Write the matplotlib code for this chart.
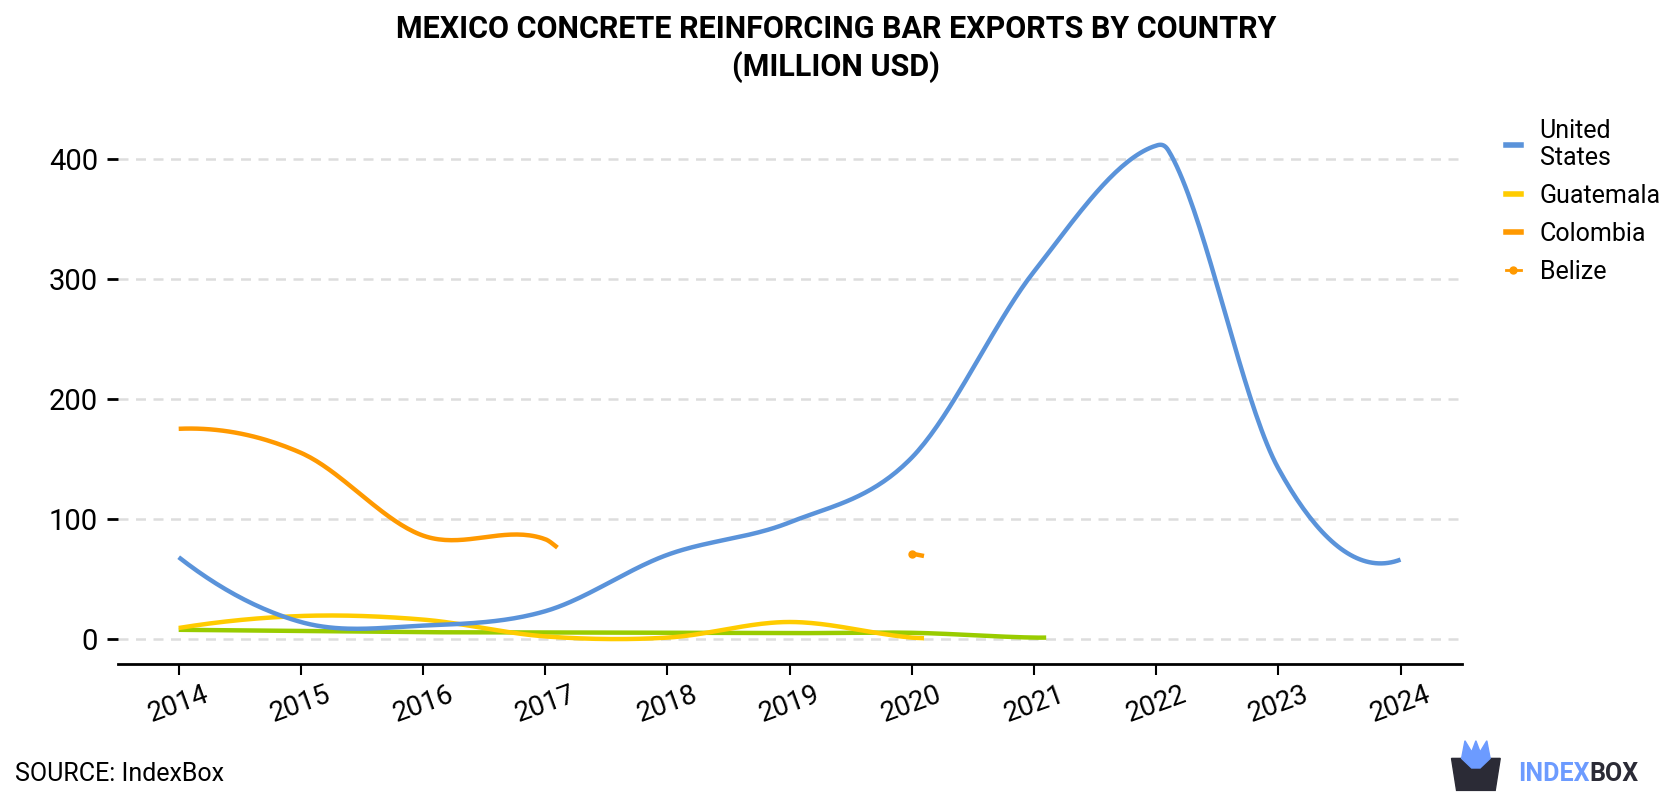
import numpy as np
import matplotlib.pyplot as plt
from matplotlib.lines import Line2D
from matplotlib.patches import Polygon

plt.rcParams['font.family'] = ['Roboto', 'DejaVu Sans']

# data (million USD)
us_years = [2014, 2015, 2016, 2017, 2018, 2019, 2020, 2021, 2022, 2022.1, 2023, 2024]
us_vals = [68, 14, 11, 23, 70, 97, 151, 306, 411, 407, 142, 66]

guat_years = [2014, 2015, 2016, 2017, 2018, 2019, 2020, 2020.1]
guat_vals = [9, 19, 16, 2, 1, 14, 1, 0.5]

col_years = [2014, 2015, 2016, 2017, 2017.1]
col_vals = [175, 155, 86, 83, 76]

belize_years = [2020, 2020.1]
belize_vals = [71, 69]

other_years = [2014, 2015, 2016, 2017, 2018, 2019, 2020, 2021, 2021.1]
other_vals = [7.5, 6.5, 5.5, 5.3, 5, 4.7, 5, 1, 1]

years = list(range(2014, 2025))


def smooth(x, y, n=40):
    # cubic hermite curve through the points, for drawing only
    x = np.asarray(x, float)
    y = np.asarray(y, float)
    if len(x) < 3:
        return x, y
    m = np.gradient(y, x, edge_order=2)
    sec = np.diff(y) / np.diff(x)
    m[1:-1] = (sec[:-1] + sec[1:]) / 2
    xs, ys = [], []
    for i in range(len(x) - 1):
        h = x[i + 1] - x[i]
        t = np.linspace(0, 1, n)
        h00 = 2 * t**3 - 3 * t**2 + 1
        h10 = t**3 - 2 * t**2 + t
        h01 = -2 * t**3 + 3 * t**2
        h11 = t**3 - t**2
        xs.append(x[i] + t * h)
        ys.append(h00 * y[i] + h10 * h * m[i] + h01 * y[i + 1] + h11 * h * m[i + 1])
    return np.concatenate(xs), np.concatenate(ys)


fig = plt.figure(figsize=(16.8, 8), dpi=100)
ax = fig.add_axes([0.070, 0.17, 0.80, 0.6675])

blue = '#5A93DA'
yellow = '#FFCC00'
orange = '#FF9900'
green = '#99CC00'

ax.plot(*smooth(other_years, other_vals), color=green, lw=3.2, solid_capstyle='butt')
ax.plot(*smooth(guat_years, guat_vals), color=yellow, lw=3.2, solid_capstyle='butt')
ax.plot(*smooth(col_years, col_vals), color=orange, lw=3.2, solid_capstyle='butt')
ax.plot(*smooth(us_years, us_vals), color=blue, lw=3.2, solid_capstyle='butt')
ax.plot(belize_years, belize_vals, color=orange, lw=3.2, solid_capstyle='butt')
ax.plot(belize_years[:1], belize_vals[:1], 'o', color=orange, ms=5)

ax.set_xlim(2013.5, 2024.5)
ax.set_ylim(-21, 424)
ax.set_xticks(years)
ax.set_xticklabels([str(y) for y in years], rotation=20, fontsize=20)
ax.set_yticks([0, 100, 200, 300, 400])
ax.tick_params(axis='y', labelsize=21, length=8, width=2, pad=6, color='black')
ax.tick_params(axis='x', length=8, width=1.5, pad=4)
ax.grid(axis='y', color='#DDDDDD', lw=1.8, ls=(0, (4, 3)))
ax.set_axisbelow(True)
for s in ['top', 'right', 'left']:
    ax.spines[s].set_visible(False)
ax.spines['bottom'].set_linewidth(2)

handles = [
    Line2D([], [], color=blue, lw=4),
    Line2D([], [], color=yellow, lw=4),
    Line2D([], [], color=orange, lw=4),
    Line2D([], [], color=orange, lw=2, marker='o', ms=5),
]
labels = ['United\nStates', 'Guatemala', 'Colombia', 'Belize']
fig.legend(handles, labels, loc='upper left', bbox_to_anchor=(0.883, 0.88),
           frameon=False, fontsize=18, handlelength=0.6, handletextpad=0.75,
           labelspacing=0.55)

fig.text(0.4976, 0.982, 'MEXICO CONCRETE REINFORCING BAR EXPORTS BY COUNTRY\n(MILLION USD)',
         ha='center', va='top', fontsize=22, fontweight='bold', linespacing=1.25)
fig.text(0.009, 0.033, 'SOURCE: IndexBox', fontsize=18, va='center')

# logo
t1 = fig.text(0.9035, 0.033, 'INDEX', fontsize=18, fontweight='bold', color='#6C9BFF', va='center')
fig.canvas.draw()
bb = t1.get_window_extent()
fig.text(bb.x1 / fig.bbox.width, 0.033, 'BOX', fontsize=18, fontweight='bold',
         color='#2B2B36', va='center')
fig.patches.append(Polygon([(0.864, 0.052), (0.893, 0.052), (0.890, 0.012), (0.867, 0.012)],
                           closed=True, transform=fig.transFigure, color='#2B2B36'))
fig.patches.append(Polygon([(0.870, 0.052), (0.872, 0.074), (0.876, 0.060), (0.8785, 0.074),
                            (0.881, 0.060), (0.885, 0.074), (0.887, 0.052), (0.881, 0.040),
                            (0.876, 0.040)],
                           closed=True, transform=fig.transFigure, color='#6C9BFF'))

fig.savefig('out.png', dpi=100)
